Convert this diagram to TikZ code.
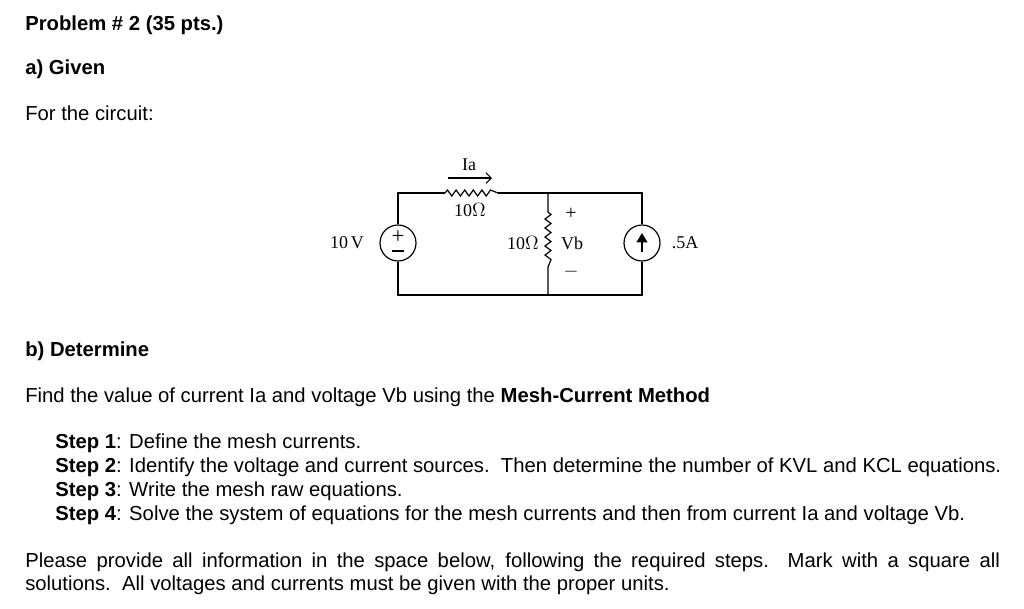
\documentclass[tikz,border=0pt]{standalone}
\usepackage{fontspec}
\setmainfont{Liberation Sans}
\newfontfamily\circfont{Liberation Serif}
\usetikzlibrary{arrows.meta}
\begin{document}
\begin{tikzpicture}[x=0.75pt,y=-0.75pt,
  txt/.style={anchor=base west,inner sep=0,font=\fontsize{15.2}{18}\selectfont},
  ctxt/.style={inner sep=1pt,font=\circfont\fontsize{13.5}{15}\selectfont},
  wire/.style={line width=0.9pt},
  src/.style={circle,draw,line width=0.9pt,minimum size=27pt,inner sep=0}]
\useasboundingbox (0,0) rectangle (1024,608);
\node[txt] (t1) at (25,30) {\textbf{Problem \# 2 (35 pts.)}};
\node[txt] (t2) at (25,74) {\textbf{a) Given}};
\node[txt] (t3) at (25,120) {For the circuit:};
\node[txt] (t4) at (25,356) {\textbf{b) Determine}};
\node[txt] (t5) at (25,402) {Find the value of current Ia and voltage Vb using the \textbf{Mesh-Current Method}};
\node[txt] (s1) at (55,448) {\textbf{Step 1}: Define the mesh currents.};
\node[txt] (s2) at (55,472) {\textbf{Step 2}: Identify the voltage and current sources.\ \ Then determine the number of KVL and KCL equations.};
\node[txt] (s3) at (55,496) {\textbf{Step 3}: Write the mesh raw equations.};
\node[txt] (s4) at (55,520) {\textbf{Step 4}: Solve the system of equations for the mesh currents and then from current Ia and voltage Vb.};
\node[txt,text width=731pt,align=justify,font=\fontsize{15.2}{17.3}\selectfont] (p1) at (25,567) {Please provide all information in the space below, following the required steps.\ \ Mark with a square all\linebreak solutions.\ \ All voltages and currents must be given with the proper units.};
% circuit
\coordinate (tl) at (398,193); \coordinate (bl) at (398,295);
\coordinate (tm) at (548,193); \coordinate (bm) at (548,295);
\coordinate (tr) at (642,193); \coordinate (br) at (642,295);
\coordinate (r1a) at (445,193); \coordinate (r1b) at (498,193);
\coordinate (r2a) at (548,212); \coordinate (r2b) at (548,267);
\node[src] (vs) at (398,243) {};
\node[src] (cs) at (642,243) {};
\node[ctxt,font=\circfont\fontsize{17}{17}\selectfont] (vp) at (398,237) {+};
\draw[line width=0.9pt] (392,251) -- (404,251);
\draw[-{Triangle[length=7pt,width=8pt]},line width=1.4pt] (642,252) -- (642,233);
\draw[wire] (vs.north) -- (tl) -- (r1a);
\draw[wire] (r1a) -- ++(2.5,-3) \foreach \i in {1,...,5}{ -- ++(4.3,6) -- ++(4.3,-6)} -- (r1b);
\draw[wire] (r1b) -- (tm) -- (tr) -- (cs.north);
\draw[wire] (tm) -- (r2a) -- ++(3,2.5) \foreach \i in {1,...,5}{ -- ++(-6,4.5) -- ++(6,4.5)} -- (r2b) -- (bm);
\draw[wire] (vs.south) -- (bl) -- (bm) -- (br) -- (cs.south);
\node[ctxt] (l10v) at (347,243) {10\,V};
\node[ctxt] (l5a) at (685,243) {.5A};
\node[ctxt] (lr1) at (470,210) {10$\Omega$};
\node[ctxt] (lr2) at (523,243) {10$\Omega$};
\node[ctxt] (lvb) at (572,243) {Vb};
\node[ctxt,font=\circfont\fontsize{15}{15}\selectfont] (lp) at (571,214) {+};
\node[ctxt,font=\circfont\fontsize{15}{15}\selectfont] (lm) at (571,272) {$-$};
\node[ctxt] (lia) at (469,165) {Ia};
\coordinate (ia1) at (448,178); \coordinate (ia2) at (492,178);
\draw[-{Straight Barb[length=4pt]},line width=0.8pt] (ia1) -- (ia2);
\end{tikzpicture}
\end{document}
